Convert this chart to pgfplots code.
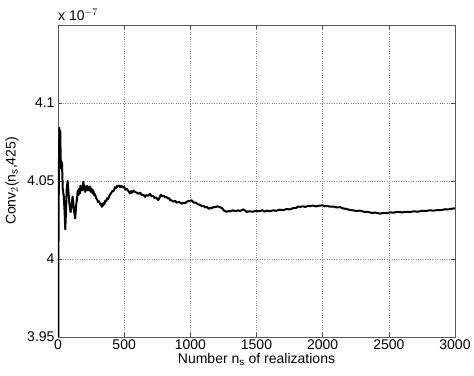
\documentclass[border=0pt]{standalone}
\usepackage{pgfplots}
\pgfplotsset{compat=1.18}
\usepackage{fontspec}
\setmainfont{Liberation Sans}
\begin{document}
\begin{tikzpicture}[x=1pt,y=1pt]
\useasboundingbox (-58,-38) rectangle (416,337);
\begin{axis}[
  at={(0,0)}, anchor=south west,
  scale only axis, width=397pt, height=312pt,
  xmin=0, xmax=3000, ymin=3.95, ymax=4.15,
  xtick={0,500,...,3000},
  ytick={3.95,4,4.05,4.1},
  yticklabels={3.95,4,4.05,4.1},
  xticklabel style={/pgf/number format/1000 sep={}},
  /pgf/number format/assume math mode=true,
  tick align=inside,
  major tick length=4pt,
  tick style={black!70, line width=0.4pt},
  axis line style={black!65, line width=0.6pt},
  grid=major,
  major grid style={dotted, black!45, line width=0.5pt},
  ticklabel style={font=\fontsize{14}{16}\selectfont},
  xticklabel style={yshift=1pt},
  yticklabel style={xshift=0pt},
  xlabel={Number n$_{\mathrm{s}}$ of realizations},
  xlabel style={font=\fontsize{14}{16}\selectfont, at={(axis description cs:0.5,0)}, anchor=base, yshift=-26pt},
  ylabel={Conv$_2$(n$_{\mathrm{s}}$,425)},
  ylabel style={font=\fontsize{14}{16}\selectfont, at={(axis description cs:-0.116,0.5)}, anchor=center},
  clip=true,
]
\addplot[black, line width=2pt, line join=round] coordinates {
(1,3.90) (4,4.02) (8,4.07) (11,4.084) (14,4.076) (17,4.082) (20,4.065) (24,4.058)
(30,4.062) (36,4.045) (44,4.040) (50,4.030) (55,4.019) (60,4.030) (66,4.045) (73,4.050)
(80,4.042) (88,4.034) (95,4.030) (102,4.033) (110,4.040) (116,4.036) (123,4.030) (130,4.026)
(137,4.034) (145,4.040) (150,4.044) (155,4.041) (160,4.045) (165,4.042) (170,4.047) (175,4.044) (180,4.046) (185,4.044) (192,4.0495) (196,4.045) (200,4.047)
(205,4.043) (210,4.046) (215,4.044) (220,4.047) (226,4.044) (232,4.046) (237,4.044) (242,4.0465) (248,4.043) (255,4.045) (261,4.042) (267,4.044) (273,4.041) (280,4.0415) (288,4.039) (295,4.0385)
(302,4.0365) (310,4.037) (318,4.035) (325,4.0355) (331,4.0335) (337,4.034) (344,4.036) (350,4.035) (358,4.0375) (365,4.037) (372,4.039) (380,4.0385) (390,4.041) (400,4.042) (410,4.0435) (420,4.0435)
(430,4.046) (440,4.0455) (448,4.047) (456,4.0465) (463,4.047) (470,4.046) (480,4.0468) (490,4.0458) (500,4.0462) (510,4.0445) (520,4.045) (532,4.0435) (544,4.042) (552,4.0435) (560,4.0425)
(570,4.0438) (582,4.043) (595,4.0425) (610,4.0418) (622,4.0425) (635,4.0408) (646,4.0412) (658,4.0398) (668,4.041) (680,4.0405) (695,4.0418) (707,4.0402) (720,4.0404) (730,4.039) (740,4.0395)
(758,4.0378) (768,4.0395) (778,4.0412) (791,4.0402) (800,4.0405) (810,4.0395) (820,4.0398) (830,4.0388) (840,4.039) (847,4.0378) (860,4.0375) (870,4.0368) (885,4.0372) (897,4.0362)
(915,4.0365) (935,4.0355) (950,4.036) (960,4.0358) (975,4.0368) (990,4.0372) (1010,4.0376) (1025,4.0362) (1040,4.0362) (1058,4.035) (1073,4.0348) (1088,4.0338) (1100,4.034)
(1113,4.033) (1125,4.0334) (1140,4.0322) (1149,4.0328) (1162,4.0324) (1175,4.0334) (1190,4.0332) (1205,4.0338) (1224,4.0332) (1240,4.0325) (1255,4.031) (1275,4.0303) (1290,4.0308) (1300,4.0305)
(1320,4.0312) (1340,4.0306) (1360,4.0312) (1376,4.0308) (1401,4.0318) (1415,4.031) (1426,4.0302) (1445,4.0306) (1470,4.0303) (1495,4.0308) (1520,4.0306) (1545,4.0312) (1560,4.0304) (1580,4.031) (1602,4.0306)
(1625,4.0312) (1650,4.0309) (1675,4.0316) (1700,4.0313) (1728,4.032) (1754,4.0318) (1775,4.0326) (1800,4.0328) (1815,4.0336) (1829,4.0334) (1850,4.0338) (1870,4.0334) (1890,4.0341) (1905,4.0338) (1925,4.0343) (1950,4.0337)
(1975,4.0342) (2000,4.0344) (2015,4.0338) (2031,4.034) (2055,4.0336) (2080,4.0336) (2105,4.0331) (2132,4.0332) (2155,4.0324) (2180,4.0321) (2205,4.0314) (2230,4.0312) (2255,4.0308) (2283,4.031) (2310,4.0303) (2340,4.0302)
(2370,4.0296) (2400,4.0297) (2434,4.0291) (2460,4.0295) (2480,4.0293) (2510,4.0299) (2535,4.0297) (2565,4.0302) (2600,4.0299) (2630,4.0302) (2661,4.0301) (2690,4.0306) (2720,4.0303) (2750,4.0309) (2780,4.0308)
(2810,4.0312) (2837,4.031) (2870,4.0314) (2900,4.0314) (2925,4.0319) (2950,4.0318) (2975,4.0322) (3000,4.0325)
};
\end{axis}
\node[anchor=base west, inner sep=0pt, font=\fontsize{14}{16}\selectfont] at (0,316) {x 10$^{-7}$};
\end{tikzpicture}
\end{document}
